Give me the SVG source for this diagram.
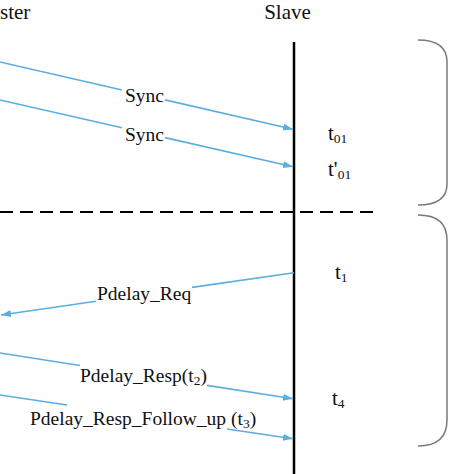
<svg xmlns="http://www.w3.org/2000/svg" width="474" height="474" viewBox="0 0 474 474">
<style>
.t{font-family:"Liberation Serif","Times New Roman",serif;font-size:19.5px;fill:#111}
.h{font-size:21px}
.ts{font-size:21px}
.s{font-size:13.5px}
.msg{stroke:#5aaee2;stroke-width:1.6;fill:none}
.brace{stroke:#7a7a7a;stroke-width:1.5;fill:none}
</style>
<defs>
<marker id="ah" markerWidth="11" markerHeight="8" refX="10" refY="3.5" orient="auto" markerUnits="userSpaceOnUse">
<path d="M0,0 L10,3.5 L0,7 z" fill="#5aaee2"/>
</marker>
</defs>
<rect width="474" height="474" fill="#fff"/>
<g id="master"><text class="t h" x="0" y="19">ster</text></g>
<g id="slave">
<text class="t h" x="287.5" y="19" text-anchor="middle">Slave</text>
<line x1="294" y1="42" x2="294" y2="474" stroke="#000" stroke-width="2.5"/>
</g>
<g id="divider"><line x1="0" y1="212" x2="377" y2="212" stroke="#000" stroke-width="2" stroke-dasharray="13 7"/></g>
<g id="brace-sync"><path class="brace" d="M418,40 Q447,40 447,62 L447,184 Q447,205 418,205"/></g>
<g id="brace-pdelay"><path class="brace" d="M418,215 Q447,215 447,240 L447,420 Q447,446 418,446"/></g>
<g id="timestamps">
<text class="t ts" x="328" y="140">t<tspan class="s" dy="3">01</tspan></text>
<text class="t ts" x="328" y="176">t'<tspan class="s" dy="3">01</tspan></text>
<text class="t ts" x="335" y="279">t<tspan class="s" dy="3">1</tspan></text>
<text class="t ts" x="332" y="405">t<tspan class="s" dy="3">4</tspan></text>
</g>
<g id="connectors">
<line class="msg" x1="0" y1="62" x2="122" y2="90"/>
<line class="msg" x1="165" y1="99.9" x2="293" y2="129.3" marker-end="url(#ah)"/>
<line class="msg" x1="0" y1="100" x2="122" y2="127.8"/>
<line class="msg" x1="165" y1="137.6" x2="293" y2="166.8" marker-end="url(#ah)"/>
<line class="msg" x1="294" y1="272.7" x2="192" y2="287.4"/>
<line class="msg" x1="96" y1="301.2" x2="1" y2="315" marker-end="url(#ah)"/>
<line class="msg" x1="0" y1="353" x2="80" y2="365.5"/>
<line class="msg" x1="207" y1="385.4" x2="293" y2="398.8" marker-end="url(#ah)"/>
<line class="msg" x1="0" y1="395" x2="67" y2="405"/>
<line class="msg" x1="227" y1="429" x2="293" y2="438.8" marker-end="url(#ah)"/>
</g>
<g id="labels">
<text class="t" x="125" y="102">Sync</text>
<text class="t" x="125" y="141">Sync</text>
<text class="t" x="97" y="300">Pdelay_Req</text>
<text class="t" x="80" y="382">Pdelay_Resp(t<tspan class="s" dy="3">2</tspan><tspan dy="-3">)</tspan></text>
<text class="t" x="30" y="425">Pdelay_Resp_Follow_up (t<tspan class="s" dy="3">3</tspan><tspan dy="-3">)</tspan></text>
</g>
</svg>
